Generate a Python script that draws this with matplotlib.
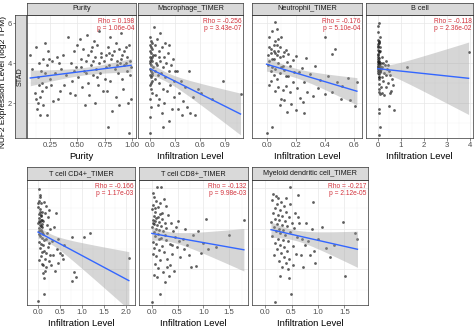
"""NUF2 expression vs tumour purity and immune infiltration (STAD, TIMER-style panels).

    python plot.py
"""
import matplotlib

matplotlib.use("Agg")
import matplotlib.pyplot as plt
import numpy as np

# (x, NUF2 log2 TPM) pairs
purity_pts = [
    (0.07, 4.4), (0.09, 3.7), (0.11, 2.5), (0.12, 2.2), (0.12, 4.8), (0.13, 1.7), (0.14, 2.0), (0.14, 3.3),
    (0.15, 4.0), (0.15, 2.9), (0.16, 2.3), (0.16, 1.4), (0.17, 3.6), (0.18, 2.6), (0.18, 3.0), (0.19, 4.2),
    (0.19, 1.9), (0.20, 5.0), (0.20, 3.5), (0.21, 2.8), (0.22, 1.4), (0.22, 3.9), (0.23, 4.6), (0.24, 4.2),
    (0.25, 3.2), (0.26, 2.9), (0.27, 4.1), (0.28, 2.1), (0.30, 3.5), (0.31, 4.3), (0.32, 2.2), (0.33, 4.0),
    (0.34, 2.6), (0.35, 3.7), (0.37, 4.4), (0.38, 2.9), (0.40, 3.4), (0.41, 5.3), (0.43, 2.5), (0.44, 4.0),
    (0.45, 3.1), (0.47, 4.6), (0.48, 2.4), (0.49, 3.8), (0.50, 4.9), (0.51, 3.3), (0.52, 5.2), (0.53, 4.2),
    (0.54, 2.8), (0.55, 4.7), (0.56, 3.6), (0.57, 1.9), (0.58, 4.1), (0.59, 5.4), (0.60, 3.0), (0.60, 4.4),
    (0.61, 2.4), (0.62, 3.9), (0.63, 4.8), (0.64, 3.4), (0.65, 5.1), (0.66, 2.0), (0.66, 4.3), (0.67, 3.7),
    (0.68, 4.9), (0.69, 2.9), (0.70, 4.0), (0.70, 5.6), (0.71, 3.5), (0.72, 4.5), (0.73, 2.6), (0.74, 4.1),
    (0.75, 3.2), (0.76, 4.4), (0.77, 2.6), (0.78, 0.8), (0.78, 4.8), (0.79, 3.9), (0.80, 5.3), (0.80, 3.1),
    (0.81, 4.2), (0.82, 1.6), (0.83, 4.6), (0.84, 3.7), (0.85, 5.0), (0.85, 2.3), (0.86, 4.1), (0.87, 3.5),
    (0.88, 4.7), (0.88, 1.9), (0.89, 4.0), (0.90, 5.5), (0.91, 3.2), (0.91, 4.4), (0.92, 2.7), (0.93, 3.9),
    (0.94, 4.8), (0.95, 3.6), (0.95, 4.3), (0.96, 2.0), (0.97, 0.5), (0.97, 4.9), (0.98, 3.4), (0.98, 4.1),
    (0.99, 2.2), (0.99, 3.8), (0.62, 4.6), (0.68, 3.3), (0.72, 4.3), (0.76, 3.8), (0.82, 4.4), (0.86, 3.9),
    (0.90, 4.2), (0.94, 4.0), (0.58, 3.5), (0.64, 4.1), (0.53, 3.8), (0.47, 3.6), (0.79, 4.5), (0.93, 4.6),
]
macrophage_pts = [
    (0.00, 0.5), (0.00, 1.3), (0.01, 1.8), (0.00, 2.2), (0.02, 2.5), (0.01, 2.7), (0.00, 2.9), (0.02, 3.1),
    (0.01, 3.3), (0.00, 3.4), (0.02, 3.5), (0.01, 3.6), (0.00, 3.7), (0.03, 3.8), (0.01, 3.9), (0.00, 4.0),
    (0.02, 4.1), (0.01, 4.2), (0.00, 4.3), (0.03, 4.4), (0.01, 4.5), (0.00, 4.6), (0.02, 4.7), (0.01, 4.8),
    (0.00, 4.9), (0.02, 5.0), (0.01, 5.1), (0.00, 5.3), (0.02, 3.4), (0.01, 3.0), (0.00, 4.1), (0.02, 4.3),
    (0.04, 5.8), (0.05, 4.9), (0.06, 4.4), (0.06, 3.2), (0.07, 2.4), (0.08, 5.2), (0.08, 3.9), (0.09, 1.9),
    (0.10, 4.6), (0.10, 3.0), (0.11, 2.2), (0.12, 4.1), (0.12, 5.5), (0.13, 3.5), (0.14, 1.5), (0.14, 4.8),
    (0.15, 0.8), (0.15, 2.7), (0.15, 3.8), (0.05, 3.6), (0.07, 4.0), (0.09, 3.4), (0.11, 4.3),
    (0.16, 4.3), (0.17, 2.0), (0.18, 5.0), (0.18, 3.3), (0.19, 4.0), (0.20, 2.6), (0.21, 4.5), (0.22, 1.1),
    (0.22, 3.6), (0.23, 4.9), (0.24, 2.9), (0.25, 3.9), (0.26, 1.7), (0.27, 4.2), (0.28, 3.1), (0.29, 2.3),
    (0.30, 3.6), (0.32, 3.6), (0.33, 1.7), (0.35, 2.5), (0.37, 3.1), (0.38, 1.4), (0.40, 2.1), (0.42, 2.8),
    (0.44, 1.8), (0.47, 3.6), (0.48, 1.5), (0.52, 2.3), (0.54, 1.4), (0.57, 2.7), (0.61, 2.5),
    (0.74, 2.2), (0.88, 3.1), (1.09, 2.45),
]
neutrophil_pts = [
    (0.00, 0.48), (0.04, 0.8), (0.06, 6.07), (0.01, 3.9), (0.02, 4.8), (0.02, 5.3), (0.03, 3.1), (0.03, 4.5),
    (0.04, 3.8), (0.04, 5.6), (0.05, 4.9), (0.05, 3.4), (0.05, 4.2), (0.06, 2.6), (0.06, 5.1), (0.06, 3.7),
    (0.07, 5.7), (0.07, 3.2), (0.07, 4.4), (0.08, 4.0), (0.08, 2.8), (0.08, 5.2), (0.09, 3.5), (0.09, 4.3),
    (0.09, 4.8), (0.10, 2.2), (0.10, 3.8), (0.10, 5.3), (0.03, 4.7), (0.04, 4.2), (0.05, 4.6), (0.02, 4.1),
    (0.03, 3.6), (0.06, 4.5), (0.07, 4.9), (0.08, 4.6), (0.01, 4.4), (0.02, 2.9), (0.09, 1.9),
    (0.11, 2.65), (0.11, 4.35), (0.12, 3.65), (0.12, 2.15), (0.13, 4.65), (0.13, 2.85), (0.14, 4.05), (0.14, 1.55),
    (0.15, 3.35), (0.15, 4.45), (0.16, 2.55), (0.16, 3.85), (0.17, 1.95), (0.18, 4.15), (0.18, 3.05), (0.19, 3.55),
    (0.20, 1.65), (0.11, 3.85), (0.12, 4.55), (0.13, 3.35),
    (0.20, 4.35), (0.21, 2.75), (0.22, 3.55), (0.23, 2.25), (0.24, 3.75), (0.25, 2.05), (0.26, 1.48), (0.26, 3.05),
    (0.27, 4.25), (0.28, 2.55), (0.30, 3.45), (0.32, 2.35), (0.33, 3.85), (0.35, 2.75), (0.37, 3.15),
    (0.40, 5.3), (0.40, 2.45), (0.42, 3.35), (0.45, 4.45), (0.47, 4.68), (0.45, 2.55), (0.48, 3.05), (0.51, 2.18),
    (0.52, 2.85), (0.56, 3.23), (0.57, 2.15), (0.61, 1.85), (0.62, 3.05),
]
bcell_pts = [
    (0.04, 6.0), (0.05, 0.4), (0.10, 0.8),
    (0.02, 5.85), (0.03, 5.55), (0.01, 5.15), (0.04, 5.05), (0.02, 4.95), (0.01, 4.85), (0.03, 4.8), (0.02, 4.65),
    (0.05, 4.55), (0.01, 4.45), (0.03, 4.4), (0.02, 4.3), (0.04, 4.25), (0.01, 4.2), (0.03, 4.1), (0.02, 4.05),
    (0.06, 4.0), (0.01, 3.95), (0.04, 3.9), (0.02, 3.85), (0.03, 3.8), (0.05, 3.75), (0.01, 3.7), (0.02, 3.6),
    (0.04, 3.55), (0.03, 3.5),
    (0.06, 4.1), (0.08, 4.05), (0.05, 3.95), (0.09, 3.85), (0.07, 3.75), (0.04, 3.65), (0.10, 3.55), (0.06, 3.45),
    (0.08, 3.3), (0.05, 3.2), (0.09, 3.6), (0.07, 2.95), (0.04, 3.3), (0.08, 2.7), (0.06, 2.55), (0.10, 2.45),
    (0.05, 1.7), (0.07, 1.5), (0.09, 5.3), (0.07, 5.0), (0.08, 4.6), (0.06, 5.1), (0.10, 4.8),
    (0.12, 4.6), (0.12, 3.6), (0.14, 4.0), (0.14, 2.8), (0.16, 3.7), (0.17, 4.3), (0.18, 3.3), (0.20, 2.5),
    (0.21, 3.8), (0.23, 3.1), (0.25, 4.0), (0.27, 2.4), (0.29, 3.5),
    (0.32, 3.9), (0.35, 3.4), (0.38, 4.1), (0.42, 3.7), (0.45, 3.9), (0.50, 1.85), (0.55, 3.4), (0.62, 3.2),
    (0.71, 1.65), (0.44, 3.0), (0.58, 2.6), (0.48, 3.6), (0.66, 2.9), (0.52, 2.5), (0.36, 2.8),
    (1.29, 3.78), (3.93, 4.57),
]
cd4_pts = [
    (0.00, 0.45), (0.02, 5.95), (0.05, 5.65), (0.03, 5.35), (0.07, 5.25), (0.01, 5.05), (0.04, 4.95), (0.09, 4.85),
    (0.02, 4.75), (0.06, 4.65), (0.03, 4.55), (0.08, 4.45), (0.05, 4.35), (0.01, 4.3), (0.10, 4.25), (0.04, 4.2),
    (0.07, 4.15), (0.02, 4.05), (0.06, 3.95), (0.09, 3.85), (0.03, 3.75), (0.05, 3.65), (0.08, 3.55), (0.02, 3.35),
    (0.07, 3.25), (0.04, 3.05), (0.10, 2.85), (0.06, 2.65), (0.03, 2.45), (0.08, 2.25), (0.05, 4.85), (0.01, 5.25),
    (0.04, 5.55), (0.06, 4.45), (0.02, 4.4), (0.09, 4.1), (0.03, 3.9), (0.07, 4.7),
    (0.14, 0.8), (0.11, 4.4), (0.12, 3.75), (0.14, 3.45), (0.11, 3.2), (0.13, 2.9), (0.15, 2.5), (0.12, 2.2),
    (0.16, 1.9), (0.11, 1.8), (0.13, 1.6), (0.18, 2.1), (0.17, 2.8), (0.19, 3.5), (0.20, 4.2), (0.21, 3.8),
    (0.22, 3.1), (0.23, 4.6), (0.24, 2.4), (0.25, 3.3), (0.26, 4.9), (0.27, 2.7), (0.28, 4.0), (0.30, 2.2),
    (0.17, 5.1), (0.15, 4.8), (0.13, 5.3),
    (0.32, 3.4), (0.34, 2.7), (0.36, 4.1), (0.38, 1.9), (0.40, 4.8), (0.42, 3.0), (0.45, 2.3), (0.46, 3.5),
    (0.50, 2.8), (0.55, 2.7), (0.56, 2.5), (0.60, 3.2), (0.76, 1.45), (0.81, 1.88), (0.87, 1.65), (0.78, 3.6),
    (1.05, 3.6), (1.18, 3.8), (2.06, 2.55),
]
cd8_pts = [
    (0.00, 0.4), (0.15, 0.8), (0.18, 6.07), (0.10, 6.05), (0.02, 5.75), (0.05, 5.55), (0.08, 5.35), (0.03, 5.15),
    (0.12, 5.05), (0.01, 4.95), (0.06, 4.85), (0.15, 4.75), (0.04, 4.65), (0.09, 4.55), (0.20, 4.5), (0.02, 4.45),
    (0.07, 4.4), (0.13, 4.35), (0.25, 4.3), (0.05, 4.25), (0.10, 4.2), (0.18, 4.15), (0.01, 4.1), (0.28, 4.05),
    (0.08, 4.0), (0.14, 3.95), (0.22, 3.9), (0.04, 3.85), (0.11, 3.75), (0.06, 3.65), (0.17, 3.55), (0.27, 3.45),
    (0.03, 3.35), (0.09, 3.25), (0.20, 3.15), (0.05, 3.05), (0.13, 2.95), (0.24, 2.85), (0.02, 2.75), (0.08, 2.65),
    (0.16, 2.45), (0.06, 2.25), (0.12, 2.05), (0.21, 1.85), (0.04, 1.75), (0.10, 1.65), (0.23, 5.45), (0.16, 5.25),
    (0.07, 5.0), (0.19, 4.8), (0.11, 4.6), (0.03, 4.3), (0.26, 3.7), (0.14, 3.5),
    (0.30, 2.5), (0.32, 4.7), (0.35, 3.25), (0.38, 4.3), (0.28, 5.1), (0.40, 2.75), (0.42, 3.9), (0.45, 3.6),
    (0.48, 3.1), (0.50, 4.4), (0.52, 3.4), (0.55, 2.6), (0.36, 2.2), (0.44, 1.9), (0.33, 1.7), (0.47, 4.1),
    (0.40, 3.2), (0.30, 2.1), (0.26, 1.4),
    (0.60, 3.5), (0.62, 3.0), (0.65, 4.0), (0.68, 3.2), (0.72, 2.7), (0.77, 2.1), (0.80, 3.7), (0.85, 2.17),
    (0.90, 3.9), (0.95, 2.8), (1.00, 3.3), (1.05, 4.5), (1.10, 3.0), (1.25, 3.1), (1.50, 3.7), (1.79, 4.42),
]
myeloid_pts = [
    (0.18, 0.4), (0.49, 0.8), (0.47, 6.07), (0.63, 5.66), (0.91, 5.33), (0.15, 5.7), (0.20, 5.6), (0.25, 5.5),
    (0.12, 5.4), (0.30, 5.3), (0.22, 5.2), (0.35, 5.1), (0.18, 5.0), (0.28, 4.9), (0.40, 4.85), (0.14, 4.8),
    (0.24, 4.7), (0.32, 4.65), (0.45, 4.6), (0.19, 4.5), (0.27, 4.45), (0.37, 4.4), (0.11, 4.35), (0.50, 4.3),
    (0.23, 4.25), (0.31, 4.2), (0.42, 4.15), (0.16, 4.1), (0.55, 4.05), (0.26, 4.0), (0.34, 3.95), (0.21, 3.9),
    (0.47, 3.85), (0.29, 3.8), (0.38, 3.7), (0.13, 3.65), (0.60, 3.6), (0.24, 3.5), (0.33, 3.45), (0.44, 3.4),
    (0.19, 3.3), (0.28, 3.2), (0.52, 3.15), (0.36, 3.1), (0.22, 3.0), (0.41, 2.9), (0.30, 2.8), (0.58, 2.75),
    (0.17, 2.7), (0.35, 2.6), (0.46, 2.5), (0.26, 2.4), (0.39, 2.3), (0.53, 2.2), (0.32, 2.1), (0.43, 2.0),
    (0.65, 4.3), (0.70, 3.5), (0.75, 3.2), (0.68, 2.7), (0.72, 2.1), (0.62, 4.6), (0.78, 4.3), (0.56, 4.8),
    (0.48, 5.2), (0.40, 5.5), (0.28, 1.7), (0.45, 1.6),
    (0.82, 3.4), (0.85, 2.7), (0.88, 4.0), (0.92, 2.9), (0.95, 2.3), (1.00, 3.5), (1.08, 4.1), (1.16, 3.05),
    (1.22, 2.62), (1.30, 3.2), (1.48, 4.35), (1.51, 1.7), (1.70, 3.78), (1.75, 3.5),
]

panel_titles = ["Purity", "Macrophage_TIMER", "Neutrophil_TIMER", "B cell",
                "T cell CD4+_TIMER", "T cell CD8+_TIMER", "Myeloid dendritic cell_TIMER"]
panel_xlabels = ["Purity"] + ["Infiltration Level"] * 6
rho_vals = ["0.198", "-0.256", "-0.176", "-0.118", "-0.166", "-0.132", "-0.217"]
p_vals = ["1.06e-04", "3.43e-07", "5.10e-04", "2.36e-02", "1.17e-03", "9.98e-03", "2.12e-05"]
x_ticks = [[0.25, 0.50, 0.75, 1.00], [0.0, 0.3, 0.6, 0.9], [0.0, 0.2, 0.4, 0.6], [0, 1, 2, 3, 4],
           [0.0, 0.5, 1.0, 1.5, 2.0], [0.0, 0.5, 1.0, 1.5], [0.0, 0.5, 1.0, 1.5]]
x_tick_labels = [["0.25", "0.50", "0.75", "1.00"], ["0.0", "0.3", "0.6", "0.9"], ["0.0", "0.2", "0.4", "0.6"],
                 ["0", "1", "2", "3", "4"], ["0.0", "0.5", "1.0", "1.5", "2.0"], ["0.0", "0.5", "1.0", "1.5"],
                 ["0.0", "0.5", "1.0", "1.5"]]
y_ticks = [2, 4, 6]
cancer = "STAD"
y_title = "NUF2 Expression Level (log2 TPM)"

# layout in pixels of the 474x327 canvas: (left, right) per panel, (top, bottom) per row
W, H = 474, 327
X_SPANS = [(27, 136), (138, 243), (252, 362), (366, 473), (27, 135), (139, 248), (252, 368)]
ROWS = [(3, 15, 138), (167, 180, 305)]  # strip top, panel top, panel bottom
X_LIMS = [(0.04, 1.035), (-0.06, 1.12), (-0.03, 0.655), (-0.2, 4.12),
          (-0.1, 2.2), (-0.07, 1.87), (-0.02, 1.95)]
Y_LIM = (0.25, 6.4)

plt.rcParams["font.family"] = ["Liberation Sans Narrow", "Liberation Sans", "DejaVu Sans"]


def rect(x0, x1, y0, y1):
    return [x0 / W, 1 - y1 / H, (x1 - x0) / W, (y1 - y0) / H]


def lm_band(x, y, grid):
    n = len(x)
    slope, icpt = np.polyfit(x, y, 1)
    resid = y - (icpt + slope * x)
    s = np.sqrt(resid @ resid / (n - 2))
    sxx = ((x - x.mean()) ** 2).sum()
    se = s * np.sqrt(1 / n + (grid - x.mean()) ** 2 / sxx)
    return icpt + slope * grid, 1.96 * se


def style_box(ax):
    for sp in ax.spines.values():
        sp.set_color("#333333")
        sp.set_linewidth(0.5)


def main():
    fig = plt.figure(figsize=(W / 100, H / 100), dpi=100)
    panels = [purity_pts, macrophage_pts, neutrophil_pts, bcell_pts, cd4_pts, cd8_pts, myeloid_pts]

    for i, pts in enumerate(panels):
        strip_top, top, bottom = ROWS[0] if i < 4 else ROWS[1]
        x0, x1 = X_SPANS[i]
        xy = np.array(pts)
        x, y = xy[:, 0], xy[:, 1]

        ax = fig.add_axes(rect(x0, x1, top, bottom))
        ax.set_xlim(*X_LIMS[i])
        ax.set_ylim(*Y_LIM)
        ax.set_xticks(x_ticks[i])
        ax.set_xticklabels(x_tick_labels[i])
        step = x_ticks[i][1] - x_ticks[i][0]
        ax.set_xticks(np.arange(x_ticks[i][0] - step / 2, X_LIMS[i][1], step), minor=True)
        ax.set_yticks(y_ticks)
        ax.set_yticks([1, 3, 5], minor=True)
        ax.set_yticklabels([])
        ax.tick_params(axis="x", which="major", length=2, width=0.4, pad=1.2,
                       labelsize=5.6, labelcolor="#4d4d4d", color="#333333")
        ax.tick_params(axis="y", which="major", length=0)
        ax.tick_params(which="minor", length=0)
        ax.grid(which="major", color="#e8e8e8", lw=0.5)
        ax.grid(which="minor", color="#f2f2f2", lw=0.3)
        ax.set_axisbelow(True)
        style_box(ax)

        ax.scatter(x, y, s=4, color="#1a1a1a", alpha=0.7, lw=0, zorder=2)
        grid = np.linspace(x.min(), x.max(), 80)
        fit, ci = lm_band(x, y, grid)
        ax.fill_between(grid, fit - ci, fit + ci, color="#999999", alpha=0.4, lw=0, zorder=3)
        ax.plot(grid, fit, color="#3366FF", lw=1.0, zorder=4)

        ax.text(0.985, 0.975, f"Rho = {rho_vals[i]}\np = {p_vals[i]}", transform=ax.transAxes,
                ha="right", va="top", color="#d2323c", fontsize=4.8, linespacing=0.95, zorder=5)
        ax.set_xlabel(panel_xlabels[i], fontsize=6.8, labelpad=1.5)

        st = fig.add_axes(rect(x0, x1, strip_top, top))
        st.set_facecolor("#d9d9d9")
        st.set_xticks([])
        st.set_yticks([])
        style_box(st)
        st.text(0.5, 0.5, panel_titles[i], ha="center", va="center", fontsize=5.2,
                color="#1a1a1a", transform=st.transAxes)

        if i == 0:
            side = fig.add_axes(rect(15, 26, top, bottom))
            side.set_facecolor("#d9d9d9")
            side.set_ylim(*Y_LIM)
            side.set_xticks([])
            side.set_yticks(y_ticks)
            side.set_yticklabels([str(v) for v in y_ticks])
            side.tick_params(axis="y", length=1.5, width=0.4, pad=0.8, labelsize=5.4,
                             labelcolor="#4d4d4d", color="#333333")
            style_box(side)
            side.text(0.5, 0.5, cancer, rotation=90, ha="center", va="center", fontsize=5.2,
                      color="#1a1a1a", transform=side.transAxes)

    fig.text(4.0 / W, 1 - 82 / H, y_title, rotation=90, ha="center", va="center",
             fontsize=6.0, family=["Liberation Sans", "DejaVu Sans"])
    fig.savefig("out.png", dpi=100)


if __name__ == "__main__":
    main()
